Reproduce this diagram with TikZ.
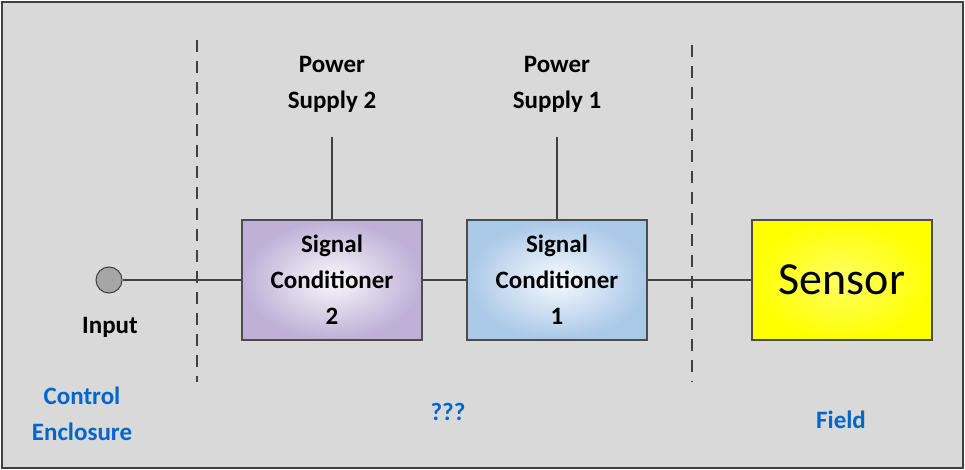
\documentclass[tikz,border=0pt]{standalone}
\usepackage{fontspec}
\setmainfont{Carlito}
\definecolor{lav}{RGB}{190,176,214}
\definecolor{lblu}{RGB}{170,200,232}
\begin{document}
\begin{tikzpicture}[x=1pt,y=-1pt,
  box/.style={draw=black!70,line width=1.2pt,minimum width=180pt,minimum height=120pt,align=center,font=\fontsize{25}{36}\selectfont\bfseries},
  lbl/.style={align=center,font=\fontsize{25}{36}\selectfont\bfseries},
  blu/.style={lbl,text=blue!50!cyan!80!black},
  wire/.style={draw=black!75,line width=1.2pt},
  dashline/.style={draw=black!75,line width=1.2pt,dash pattern=on 12pt off 9pt}]
\useasboundingbox (0,0) rectangle (965,470);
\draw[fill=black!15,draw=black!75,line width=2.5pt] (2,2) rectangle (963,468);
\draw[dashline] (197,40) -- (197,382);
\draw[dashline] (692,45) -- (692,382);
\node[box,inner color=white!90!lav,outer color=lav] (sc2) at (332,280) {Signal\\Conditioner\\2};
\node[box,inner color=white!90!lblu,outer color=lblu] (sc1) at (557,280) {Signal\\Conditioner\\1};
\node[box,inner color=yellow!60!white,outer color=yellow,font=\fontsize{46}{54}\selectfont] (sen) at (842,280) {Sensor};
\node[circle,draw=black!75,fill=black!35,line width=1pt,minimum size=26pt,inner sep=0] (in) at (109,280) {};
\node[lbl] (inl) at (110,327) {Input};
\node[lbl] (ps2) at (332,84) {Power\\Supply 2};
\node[lbl] (ps1) at (557,84) {Power\\Supply 1};
\coordinate (p2) at (332,137);
\coordinate (p1) at (557,137);
\node[blu] (ce) at (82,414) {Control\\Enclosure};
\node[blu] (q) at (448,412) {???};
\node[blu] (f) at (841,420) {Field};
\draw[wire] (in) -- (sc2);
\draw[wire] (sc2) -- (sc1);
\draw[wire] (sc1) -- (sen);
\draw[wire] (p2) -- (sc2.north);
\draw[wire] (p1) -- (sc1.north);
\end{tikzpicture}
\end{document}
